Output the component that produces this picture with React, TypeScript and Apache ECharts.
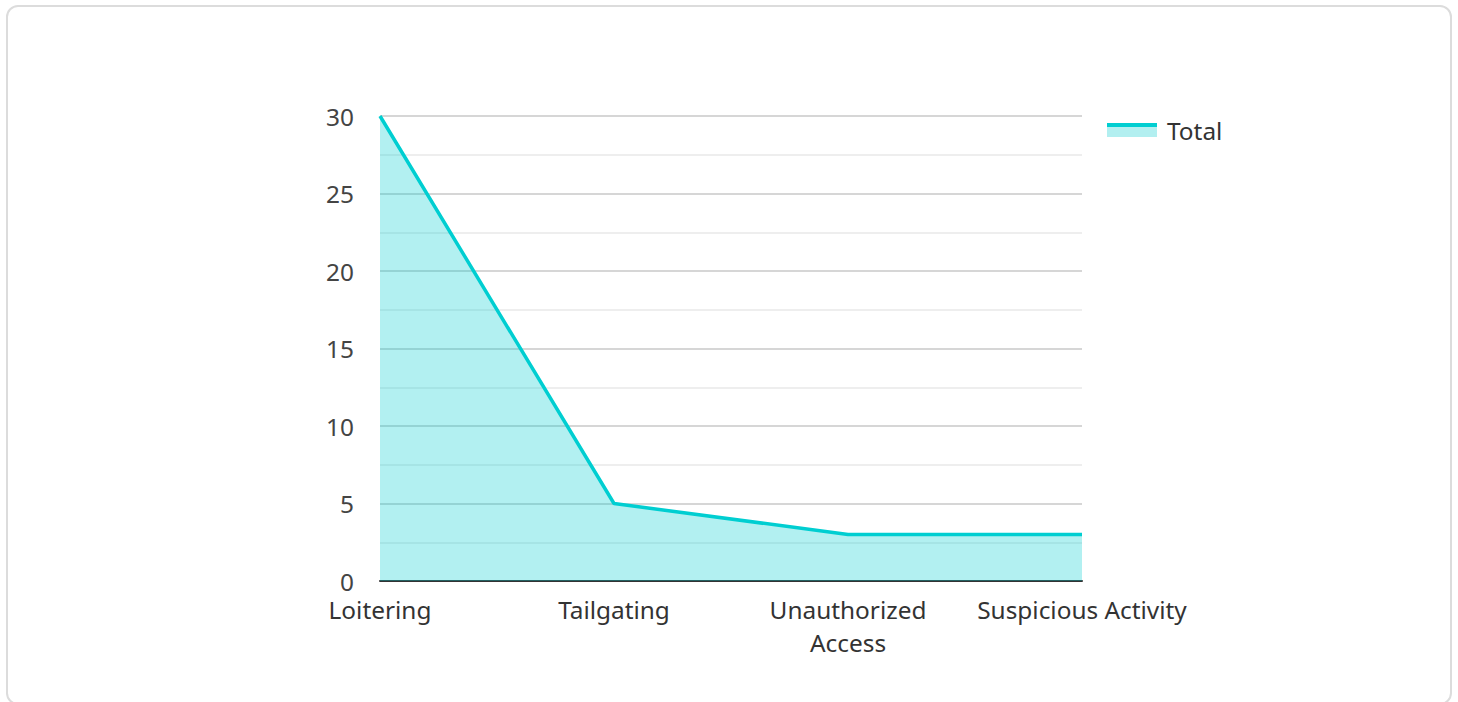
import React, { useEffect, useRef } from "react";
import * as echarts from "echarts";

const categories = ["Loitering", "Tailgating", "Unauthorized\nAccess", "Suspicious Activity"];
const totals = [30, 5, 3, 3];
const seriesName = "Total";

export default function App() {
  const ref = useRef<HTMLDivElement>(null);
  useEffect(() => {
    if (!ref.current) return;
    const chart = echarts.init(ref.current, undefined, { renderer: "svg" });
    const font = "'Noto Sans', 'Open Sans', sans-serif";
    chart.setOption({
      animation: false,
      textStyle: { fontFamily: font },
      grid: { left: 380, right: 1458 - 1082, top: 116, bottom: 702 - 581 },
      legend: {
        left: 1107,
        top: 118,
        padding: 0,
        itemWidth: 50,
        itemHeight: 14,
        itemGap: 10,
        icon: "rect",
        textStyle: { fontSize: 24.4, color: "#333", fontFamily: font, padding: [0, 0, 0, 5] },
        data: [
          {
            name: seriesName,
            itemStyle: {
              color: new echarts.graphic.LinearGradient(0, 0, 0, 1, [
                { offset: 0, color: "#00CED1" },
                { offset: 0.27, color: "#00CED1" },
                { offset: 0.27, color: "#b2eff0" },
                { offset: 1, color: "#b2eff0" },
              ]),
            },
          },
        ],
      },
      xAxis: {
        type: "category",
        data: categories,
        boundaryGap: false,
        axisLine: { show: true, lineStyle: { color: "#333", width: 2 } },
        axisTick: { show: false },
        axisLabel: {
          interval: 0,
          fontSize: 24.4,
          color: "#333",
          lineHeight: 33,
          margin: 12,
          fontFamily: font,
        },
        splitLine: { show: false },
      },
      yAxis: {
        type: "value",
        min: 0,
        max: 30,
        interval: 5,
        axisLine: { show: false },
        axisTick: { show: false },
        axisLabel: { fontSize: 24.4, color: "#444", margin: 26, fontFamily: font },
        splitLine: { show: true, lineStyle: { color: "#c8c8c8", width: 1.5 } },
        minorTick: { show: false, splitNumber: 2 },
        minorSplitLine: { show: true, lineStyle: { color: "#e8e8e8", width: 1.5 } },
      },
      series: [
        {
          name: seriesName,
          type: "line",
          data: totals,
          symbol: "none",
          lineStyle: { color: "#00CED1", width: 3.5 },
          itemStyle: { color: "#00CED1" },
          areaStyle: { color: "rgba(0,206,209,0.3)", opacity: 1 },
        },
      ],
    });
    return () => chart.dispose();
  }, []);

  return (
    <div style={{ position: "fixed", left: 0, top: 0, width: 1458, height: 702, background: "#fff", overflow: "hidden" }}>
      <div
        style={{
          position: "absolute",
          left: 6,
          top: 5,
          width: 1446,
          height: 700,
          boxSizing: "border-box",
          border: "2px solid #dcdcdc",
          borderRadius: 12,
        }}
      />
      <div ref={ref} style={{ position: "absolute", left: 0, top: 0, width: 1458, height: 702 }} />
    </div>
  );
}
